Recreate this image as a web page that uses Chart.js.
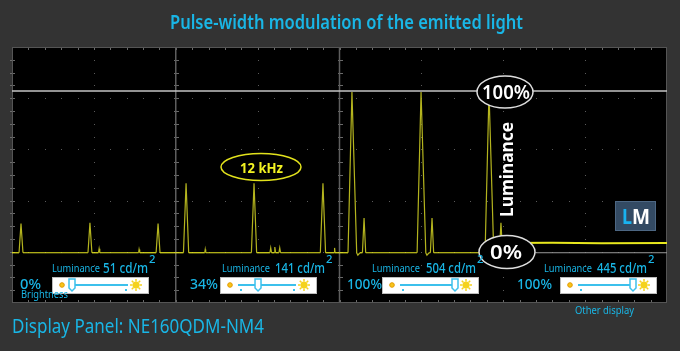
<!DOCTYPE html>
<html>
<head>
<meta charset="utf-8">
<script src="https://cdn.jsdelivr.net/npm/chart.js@4.4.1/dist/chart.umd.min.js"></script>
<style>
  html, body { margin: 0; background: #333333; }
  #wrap { width: 680px; height: 351px; position: relative; }
</style>
</head>
<body>
<div id="wrap"><canvas id="pwm"></canvas></div>
<script>
// traces: x in divisions (10 per panel), y in % of luminance
const panel1Trace = [[0,0],[0.43,0],[0.55,18],[0.67,0],[4.64,0],[4.76,18.5],[4.88,0],[5.28,0],[5.32,2.5],[5.36,0],
  [7.73,0],[7.76,2],[7.8,0],[8.8,0],[8.92,18],[9.04,0],[10,0]];
const panel2Trace = [[10,0],[10.47,0],[10.63,43],[10.79,0],[11.77,0],[11.8,2],[11.83,0],[14.62,0],[14.78,43],[14.94,0],
  [15.75,0],[15.8,3],[15.85,0],[16.0,0],[16.05,3.5],[16.1,0],[16.3,0],[16.35,3],[16.4,0],
  [18.83,0],[18.99,43],[19.15,0],[19.67,0],[19.7,3],[19.73,0],[20,0]];
const panel3Trace = [[20,0],[20.52,0],[20.76,99.5],[21.05,0],[21.12,-1.5],[21.25,0],[21.4,0],[21.5,21.5],[21.6,0],
  [24.74,0],[24.98,99.5],[25.27,0],[25.34,-1.5],[25.47,0],[25.55,0],[25.65,21.5],[25.75,0],
  [28.89,0],[29.13,99.5],[29.42,0],[29.49,-1.5],[29.62,0],[29.76,0],[29.86,18.6],[29.96,0],[30,0]];
const otherTrace = [[30,6],[33,6.2],[36,5.8],[40,6]];

const luminance = [51, 141, 504, 445];
const brightness = [0, 34, 100, 100];
const frequencyLabel = '12 kHz';
const panelName = 'NE160QDM-NM4';

// where the labels sit (pixels)
const sliderX = [52, 220, 382, 560];
const lumLabelX = [52, 222, 372, 544];
const lumNumX = [103, 275, 426, 597];
const pctX = [20, 190, 347, 517];

const CYAN = '#19b6e6';

function fitText(ctx, str, x, y, w, font, color) {
  ctx.save();
  ctx.font = font;
  ctx.fillStyle = color;
  ctx.textBaseline = 'alphabetic';
  ctx.textAlign = 'left';
  const m = ctx.measureText(str).width;
  ctx.translate(x, y);
  ctx.scale(w / m, 1);
  ctx.fillText(str, 0, 0);
  ctx.restore();
}

function ellipse(ctx, cx, cy, rx, ry, stroke) {
  ctx.beginPath();
  ctx.ellipse(cx, cy, rx, ry, 0, 0, Math.PI * 2);
  ctx.fillStyle = '#000';
  ctx.fill();
  ctx.lineWidth = 1.5;
  ctx.strokeStyle = stroke;
  ctx.stroke();
}

function slider(ctx, x0, pct) {
  const y = 285;
  ctx.fillStyle = '#ffffff';
  ctx.fillRect(x0, 277, 97, 17);
  ctx.strokeStyle = '#bdbdbd';
  ctx.lineWidth = 1;
  ctx.strokeRect(x0 + 0.5, 277.5, 96, 16);
  // small sun
  ctx.beginPath();
  ctx.arc(x0 + 10, y, 2.3, 0, Math.PI * 2);
  ctx.fillStyle = '#f7c51c';
  ctx.fill();
  ctx.strokeStyle = '#e59a00';
  ctx.stroke();
  // track
  ctx.strokeStyle = '#3cc0ec';
  ctx.lineWidth = 2;
  ctx.beginPath();
  ctx.moveTo(x0 + 18, y);
  ctx.lineTo(x0 + 76, y);
  ctx.stroke();
  // end dots
  ctx.fillStyle = '#3cc0ec';
  if (pct > 5) ctx.fillRect(x0 + 20, 289, 2, 2);
  if (pct < 95) ctx.fillRect(x0 + 73, 289, 2, 2);
  // thumb
  const tx = x0 + 20 + pct / 100 * 53;
  ctx.beginPath();
  ctx.moveTo(tx - 3, y - 6);
  ctx.lineTo(tx + 3, y - 6);
  ctx.lineTo(tx + 3, y + 3);
  ctx.lineTo(tx, y + 6);
  ctx.lineTo(tx - 3, y + 3);
  ctx.closePath();
  ctx.fillStyle = '#fff';
  ctx.fill();
  ctx.lineWidth = 1.5;
  ctx.strokeStyle = '#3cc0ec';
  ctx.stroke();
  // big sun
  const sx = x0 + 84;
  ctx.strokeStyle = '#f5d21c';
  ctx.lineWidth = 1.5;
  for (let i = 0; i < 8; i++) {
    const a = i * Math.PI / 4;
    ctx.beginPath();
    ctx.moveTo(sx + Math.cos(a) * 3.5, y + Math.sin(a) * 3.5);
    ctx.lineTo(sx + Math.cos(a) * 6, y + Math.sin(a) * 6);
    ctx.stroke();
  }
  ctx.beginPath();
  ctx.arc(sx, y, 3.5, 0, Math.PI * 2);
  ctx.fillStyle = '#f5d21c';
  ctx.fill();
}

const scopeGrid = {
  id: 'scopeGrid',
  beforeDraw(chart) {
    const { ctx, chartArea: a } = chart;
    const xs = chart.scales.x, ys = chart.scales.y;
    ctx.save();
    ctx.fillStyle = '#333333';
    ctx.fillRect(0, 0, chart.width, chart.height);
    ctx.fillStyle = '#000000';
    ctx.fillRect(a.left, a.top, a.width, a.height);
    const dy = a.height / 20;
    // dotted major rows and columns
    ctx.fillStyle = '#5a5a5a';
    for (const k of [4, 8, 12, 16]) {
      const py = Math.round(a.top + k * dy);
      for (let d = 1; d < 40; d++) ctx.fillRect(Math.round(xs.getPixelForValue(d)), py, 1, 1);
    }
    for (const v of [5, 15, 25, 30, 35]) {
      const px = Math.round(xs.getPixelForValue(v));
      for (let k = 1; k < 20; k++) ctx.fillRect(px, Math.round(a.top + k * dy), 1, 1);
    }
    // edge ticks
    ctx.fillStyle = '#6a6a6a';
    for (let d = 1; d < 40; d++) {
      const px = Math.round(xs.getPixelForValue(d));
      ctx.fillRect(px, a.top, 1, 3);
      ctx.fillRect(px, a.bottom - 3, 1, 3);
    }
    for (const v of [0, 10, 20]) {
      const px = Math.round(xs.getPixelForValue(v));
      for (let k = 1; k < 20; k++) ctx.fillRect(px - 2, Math.round(a.top + k * dy), 5, 1);
    }
    // panel dividers and frame
    ctx.strokeStyle = '#5e5e5e';
    ctx.lineWidth = 1.5;
    for (const v of [10, 20]) {
      const px = xs.getPixelForValue(v);
      ctx.beginPath();
      ctx.moveTo(px, a.top);
      ctx.lineTo(px, a.bottom);
      ctx.stroke();
    }
    ctx.lineWidth = 1;
    ctx.strokeStyle = '#555555';
    ctx.strokeRect(a.left + 0.5, a.top + 0.5, a.width - 1, a.height - 1);
    // 100 % and 0 % reference lines
    ctx.strokeStyle = '#c4c4c4';
    ctx.lineWidth = 1.5;
    ctx.beginPath();
    ctx.moveTo(xs.getPixelForValue(0), ys.getPixelForValue(100));
    ctx.lineTo(xs.getPixelForValue(40), ys.getPixelForValue(100));
    ctx.stroke();
    ctx.strokeStyle = '#9a9a9a';
    ctx.lineWidth = 1;
    ctx.beginPath();
    ctx.moveTo(xs.getPixelForValue(29), ys.getPixelForValue(0));
    ctx.lineTo(xs.getPixelForValue(40), ys.getPixelForValue(0));
    ctx.stroke();
    ctx.restore();
  },
  afterDraw(chart) {
    const ctx = chart.ctx;
    ctx.save();
    // headline and footer
    fitText(ctx, 'Pulse-width modulation of the emitted light', 170, 29, 353, '600 20px "Noto Sans"', CYAN);
    fitText(ctx, 'Display Panel: ' + panelName, 12, 333, 252, '19px "Noto Sans"', CYAN);
    // frequency badge
    ellipse(ctx, 261, 167, 40, 13.5, '#e2e21c');
    fitText(ctx, frequencyLabel, 240, 173, 43, 'bold 15px "Noto Sans"', '#f2f222');
    // 100 % / 0 % badges
    ellipse(ctx, 505, 92, 28, 16, '#dddddd');
    fitText(ctx, '100%', 482, 99, 48, '600 19px "Noto Sans"', '#ffffff');
    ellipse(ctx, 507, 252, 28, 16.5, '#dddddd');
    fitText(ctx, '0%', 490, 259, 32, '600 19px "Noto Sans"', '#ffffff');
    // vertical axis word
    ctx.save();
    ctx.translate(513, 217);
    ctx.rotate(-Math.PI / 2);
    fitText(ctx, 'Luminance', 0, 0, 95, 'bold 18px "Noto Sans"', '#ffffff');
    ctx.restore();
    // LM logo
    ctx.fillStyle = '#334a63';
    ctx.fillRect(615, 201, 41, 30);
    ctx.strokeStyle = '#4d6783';
    ctx.lineWidth = 1;
    ctx.strokeRect(615.5, 201.5, 40, 29);
    fitText(ctx, 'L', 622, 224, 10, 'bold 22px "Noto Sans"', '#19b2f0');
    fitText(ctx, 'M', 632, 224, 18, 'bold 22px "Noto Sans"', '#ffffff');
    // brightness / luminance captions
    for (let i = 0; i < 4; i++) {
      fitText(ctx, 'Luminance', lumLabelX[i], 272, 48, '11px "Noto Sans"', CYAN);
      const num = luminance[i] + ' cd/m';
      const nw = num.length * 5 + 10;
      fitText(ctx, num, lumNumX[i], 273, nw, '500 15px "Noto Sans"', CYAN);
      fitText(ctx, '2', lumNumX[i] + nw + 1, 263, 6.5, '500 11px "Noto Sans"', CYAN);
      const p = brightness[i] + '%';
      fitText(ctx, p, pctX[i], 289, p.length * 7 + 7, '500 15px "Noto Sans"', CYAN);
      slider(ctx, sliderX[i], brightness[i]);
    }
    fitText(ctx, 'Brightness', 21, 298, 47, '11px "Noto Sans"', CYAN);
    fitText(ctx, 'Other display', 575, 314, 59, '11px "Noto Sans"', CYAN);
    ctx.restore();
  }
};

const toPoints = t => t.map(p => ({ x: p[0], y: p[1] }));
// steep flanks look dimmer than the flat baseline on the scope
const traceSegment = {
  borderColor: c => (c.p0.parsed.y !== c.p1.parsed.y ? '#b4b41e' : '#e6e620')
};

new Chart(document.getElementById('pwm'), {
  type: 'line',
  data: {
    datasets: [
      { data: toPoints(panel1Trace), borderColor: '#e6e620', borderWidth: 1.2, segment: traceSegment },
      { data: toPoints(panel2Trace), borderColor: '#e6e620', borderWidth: 1.2, segment: traceSegment },
      { data: toPoints(panel3Trace), borderColor: '#e6e620', borderWidth: 1.2, segment: traceSegment },
      { data: toPoints(otherTrace), borderColor: '#e8e81e', borderWidth: 2 }
    ]
  },
  options: {
    responsive: true,
    maintainAspectRatio: false,
    animation: false,
    layout: { padding: { left: 12, right: 13, top: 47, bottom: 48 } },
    elements: { point: { radius: 0 }, line: { tension: 0 } },
    scales: {
      x: { type: 'linear', min: 0, max: 40, display: false },
      y: { min: -31.1, max: 127.3, display: false }
    },
    plugins: { legend: { display: false }, tooltip: { enabled: false } }
  },
  plugins: [scopeGrid]
});
</script>
</body>
</html>
